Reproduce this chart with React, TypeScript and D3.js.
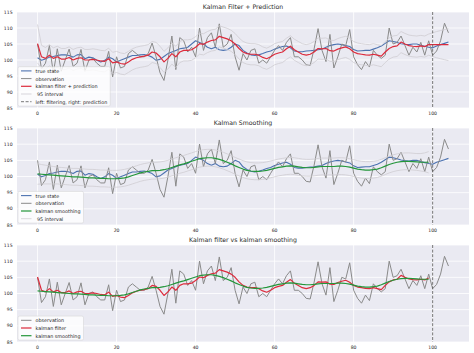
import * as d3 from "d3";
import { useEffect, useRef } from "react";

// time steps 0..104, filtering ends at 99, prediction runs 100..104
const steps = d3.range(0, 105);
const xTicks = [0, 20, 40, 60, 80, 100];
const yTicks = [85, 90, 95, 100, 105, 110, 115];
const splitAt = 100;

const observation = [
    105, 97.2, 99, 104.5, 96, 103.5, 96.5, 100, 103.4, 98,
    99, 103.3, 96.5, 100, 100.5, 99, 98, 98, 102.7, 94.7,
    101, 97.5, 98, 102, 103, 102, 101, 101, 102, 105.3,
    101, 96, 93.6, 100, 107.5, 97, 107, 106, 102.5, 104,
    101, 110, 103, 107, 108.5, 104, 111.3, 104, 105, 108,
    101, 96.8, 102, 100, 103, 103.5, 99, 100, 99, 101,
    103, 104.5, 103, 105.5, 107, 101, 101, 100, 98.5, 98.3,
    103.5, 109.8, 103, 99.5, 108, 97.5, 101, 105, 104.5, 109.5,
    101, 98.5, 97, 99.5, 97.8, 103, 101.5, 100.5, 101.5, 110,
    105, 105.5, 107.5, 104.5, 101.5, 104, 102.5, 105.5, 101.5, 106,
    101.5, 102.8, 106, 111.5, 108.5,
];

const trueState = [
    100.7, 99.9, 100.3, 100.9, 101.1, 101.4, 101.6, 101.6, 101.4, 100.9,
    101.6, 101.7, 100.4, 100.9, 100.7, 99.9, 99.4, 99.9, 100.9, 100.4,
    99.4, 99.9, 100.4, 100.9, 101.4, 101.4, 101.6, 101.7, 101.4, 100.9,
    99.9, 100.2, 101.1, 102, 102.5, 103, 103.5, 103.7, 104, 105,
    106, 105.5, 105, 104, 103.5, 104, 103.2, 103, 103.2, 104,
    105, 104.5, 103, 102.2, 101.6, 101.4, 101.6, 102, 102.5, 102.8,
    103.4, 103.8, 104.2, 104.4, 103.8, 102.8, 102.6, 102.6, 102.8, 102.9,
    103, 103.2, 103.4, 104, 104.5, 104.8, 105, 104.8, 104.5, 104.2,
    103.3, 102.8, 102.9, 103, 103, 103.4, 103.8, 104.4, 105.2, 106,
    105.8, 105.5, 105.1, 104.9, 104.8, 105, 105, 104.6, 104.3, 104,
    103.8, 104.4, 104.8, 105.2, 105.6,
];

const kalmanFilter = [
    105.1, 101, 100.5, 101.5, 100.5, 101, 100.3, 100.3, 100.8, 100,
    100.5, 100.7, 100, 100, 100.2, 100, 99.7, 99.6, 100.4, 99.1,
    99.4, 98.9, 98.7, 99.4, 100.2, 100.7, 101, 101.2, 101.5, 102.5,
    102.2, 101, 99.4, 100.5, 102, 101, 102.5, 103, 103, 103.2,
    104, 105.1, 104.9, 105.6, 106.1, 106.3, 107.4, 107, 106.6, 106,
    105, 103.6, 102.5, 102, 101.8, 101.8, 101.5, 100.8, 100.4, 101,
    101.8, 102.2, 102.5, 103.5, 104.3, 103.2, 102.5, 101.8, 101.5, 101.8,
    102.5, 103.6, 103.5, 103.6, 102.9, 102.8, 103.4, 103.8, 104.1, 103.5,
    102.5, 102, 101.8, 101.6, 101.5, 101.8, 101.5, 101.2, 102.5, 103.6,
    104.2, 104.4, 105.6, 105, 104.5, 104.3, 104.2, 104.4, 104.2, 104.8,
];

const prediction = [104.8, 104.8, 104.8, 104.8, 104.8];

// half width of the 95 interval around filter + prediction
const filterBand = [
    6, 3.6, 3.4, 3.3, 3.3, 3.3, 3.3, 3.3, 3.3, 3.3,
    3.3, 3.3, 3.3, 3.3, 3.3, 3.3, 3.3, 3.3, 3.3, 3.3,
    3.3, 3.3, 3.3, 3.3, 3.3, 3.3, 3.3, 3.3, 3.3, 3.3,
    3.3, 3.3, 3.3, 3.3, 3.3, 3.3, 3.3, 3.3, 3.3, 3.3,
    3.3, 3.3, 3.3, 3.3, 3.3, 3.3, 3.3, 3.3, 3.3, 3.3,
    3.3, 3.3, 3.3, 3.3, 3.3, 3.3, 3.3, 3.3, 3.3, 3.3,
    3.3, 3.3, 3.3, 3.3, 3.3, 3.3, 3.3, 3.3, 3.3, 3.3,
    3.3, 3.3, 3.3, 3.3, 3.3, 3.3, 3.3, 3.3, 3.3, 3.3,
    3.3, 3.3, 3.3, 3.3, 3.3, 3.3, 3.3, 3.3, 3.3, 3.3,
    3.3, 3.3, 3.3, 3.3, 3.3, 3.3, 3.3, 3.3, 3.3, 3.3,
    3.7, 4.1, 4.4, 4.7, 5.0,
];

const kalmanSmooth = [
    100.8, 100.7, 100.6, 100.5, 100.4, 100.3, 100.2, 100.1, 100, 99.9,
    99.9, 99.8, 99.7, 99.6, 99.6, 99.5, 99.4, 99.4, 99.3, 99.3,
    99.3, 99.4, 99.6, 99.9, 100.3, 100.7, 101.1, 101.4, 101.6, 101.8,
    101.8, 101.9, 102.1, 102.4, 102.8, 103.2, 103.6, 103.9, 104.3, 104.7,
    105.1, 105.5, 105.7, 105.8, 105.8, 105.6, 105.3, 104.9, 104.4, 103.9,
    103.3, 102.8, 102.3, 101.9, 101.7, 101.6, 101.6, 101.7, 101.9, 102.2,
    102.5, 102.8, 103, 103.2, 103.3, 103.2, 103, 102.8, 102.7, 102.7,
    102.8, 103, 103.1, 103.1, 103.1, 103.1, 103.2, 103.2, 103.1, 102.9,
    102.6, 102.3, 102.1, 102, 102, 102.1, 102.3, 102.7, 103.2, 103.7,
    104.1, 104.4, 104.6, 104.7, 104.7, 104.6, 104.5, 104.4, 104.4, 104.4,
];

const smoothBand = [
    3.2, 3.0, 2.9, 2.8, 2.7, 2.6, 2.6, 2.6, 2.6, 2.6,
    2.6, 2.6, 2.6, 2.6, 2.6, 2.6, 2.6, 2.6, 2.6, 2.6,
    2.6, 2.6, 2.6, 2.6, 2.6, 2.6, 2.6, 2.6, 2.6, 2.6,
    2.6, 2.6, 2.6, 2.6, 2.6, 2.6, 2.6, 2.6, 2.6, 2.6,
    2.6, 2.6, 2.6, 2.6, 2.6, 2.6, 2.6, 2.6, 2.6, 2.6,
    2.6, 2.6, 2.6, 2.6, 2.6, 2.6, 2.6, 2.6, 2.6, 2.6,
    2.6, 2.6, 2.6, 2.6, 2.6, 2.6, 2.6, 2.6, 2.6, 2.6,
    2.6, 2.6, 2.6, 2.6, 2.6, 2.6, 2.6, 2.6, 2.6, 2.6,
    2.6, 2.6, 2.6, 2.6, 2.6, 2.6, 2.6, 2.6, 2.6, 2.6,
    2.6, 2.6, 2.6, 2.6, 2.6, 2.6, 2.6, 2.7, 2.9, 3.3,
];

const COLORS = {
    truth: "#4c72b0",
    obs: "#8a8a8a",
    filter: "#dc2b3c",
    smooth: "#23963a",
    band: "#cfcdd2",
    split: "#555555",
};

const FONT = "DejaVu Sans, sans-serif";

export default function App() {
    const svgRef = useRef(null);

    useEffect(() => {
        const svg = d3.select(svgRef.current);
        svg.selectAll("*").remove();

        const x = d3.scaleLinear().domain([-5.2, 109.2]).range([17, 469]);

        const filterPlusPred = kalmanFilter.concat(prediction);
        const upperF = filterPlusPred.map((v, i) => v + filterBand[i]);
        const lowerF = filterPlusPred.map((v, i) => v - filterBand[i]);
        const upperS = kalmanSmooth.map((v, i) => v + smoothBand[i]);
        const lowerS = kalmanSmooth.map((v, i) => v - smoothBand[i]);

        const solid = (values, color, width, label) => ({ values, color, width, label });

        const panels = [
            {
                top: 12, bottom: 108, title: "Kalman Filter + Prediction",
                series: [
                    solid(trueState, COLORS.truth, 1.1, "true state"),
                    solid(observation, COLORS.obs, 1, "observation"),
                    solid(filterPlusPred, COLORS.filter, 1.2, "kalman filter + prediction"),
                    solid(upperF, COLORS.band, 0.8, " 95 interval"),
                    solid(lowerF, COLORS.band, 0.8, null),
                ],
                extra: "left: filtering, right: prediction",
            },
            {
                top: 128, bottom: 225, title: "Kalman Smoothing",
                series: [
                    solid(trueState, COLORS.truth, 1.1, "true state"),
                    solid(observation, COLORS.obs, 1, "observation"),
                    solid(kalmanSmooth, COLORS.smooth, 1.2, "kalman smoothing"),
                    solid(upperS, COLORS.band, 0.8, " 95 interval"),
                    solid(lowerS, COLORS.band, 0.8, null),
                ],
                extra: null,
            },
            {
                top: 245, bottom: 342, title: "Kalman filter vs kalman smoothing",
                series: [
                    solid(observation, COLORS.obs, 1, "observation"),
                    solid(kalmanFilter, COLORS.filter, 1.2, "kalman filter"),
                    solid(kalmanSmooth, COLORS.smooth, 1.2, "kalman smoothing"),
                ],
                extra: null,
            },
        ];

        panels.forEach((p) => {
            const y = d3.scaleLinear().domain([85, 115]).range([p.bottom, p.top]);
            const g = svg.append("g");

            g.append("rect")
                .attr("x", x.range()[0])
                .attr("y", p.top)
                .attr("width", x.range()[1] - x.range()[0])
                .attr("height", p.bottom - p.top)
                .attr("fill", "#eaeaf2");

            // grid
            g.selectAll(".gy").data(yTicks).join("line")
                .attr("x1", x.range()[0]).attr("x2", x.range()[1])
                .attr("y1", (d) => y(d)).attr("y2", (d) => y(d))
                .attr("stroke", "#fff").attr("stroke-width", 0.8);
            g.selectAll(".gx").data(xTicks).join("line")
                .attr("x1", (d) => x(d)).attr("x2", (d) => x(d))
                .attr("y1", p.top).attr("y2", p.bottom)
                .attr("stroke", "#fff").attr("stroke-width", 0.8);

            // tick labels
            g.selectAll(".ty").data(yTicks).join("text")
                .attr("x", 12.6).attr("y", (d) => y(d))
                .attr("text-anchor", "end").attr("dominant-baseline", "central")
                .style("font-family", FONT).style("font-size", "4.6px").attr("fill", "#262626")
                .text((d) => d);
            g.selectAll(".tx").data(xTicks).join("text")
                .attr("x", (d) => x(d)).attr("y", p.bottom + 5.6)
                .attr("text-anchor", "middle").attr("dominant-baseline", "central")
                .style("font-family", FONT).style("font-size", "4.6px").attr("fill", "#262626")
                .text((d) => d);

            g.append("text")
                .attr("x", (x.range()[0] + x.range()[1]) / 2)
                .attr("y", p.top - 5.6)
                .attr("text-anchor", "middle").attr("dominant-baseline", "central")
                .style("font-family", FONT).style("font-size", "6.2px").attr("fill", "#262626")
                .text(p.title);

            const line = d3.line()
                .x((d, i) => x(steps[i]))
                .y((d) => y(d));

            p.series.forEach((s) => {
                g.append("path")
                    .attr("d", line(s.values))
                    .attr("fill", "none")
                    .attr("stroke", s.color)
                    .attr("stroke-width", s.width)
                    .attr("stroke-linejoin", "round");
            });

            g.append("line")
                .attr("x1", x(splitAt)).attr("x2", x(splitAt))
                .attr("y1", p.top).attr("y2", p.bottom)
                .attr("stroke", COLORS.split).attr("stroke-width", 0.8)
                .attr("stroke-dasharray", "3,1.6");

            // legend
            const entries = p.series.filter((s) => s.label).map((s) => ({ ...s, dash: null }));
            if (p.extra) entries.push({ label: p.extra, color: COLORS.split, width: 0.8, dash: "3,1.6" });

            const step = 7.7;
            const first = p.bottom - 6.3 - (entries.length - 1) * step;
            const box = g.append("rect")
                .attr("x", 18).attr("y", first - 4.2)
                .attr("height", (entries.length - 1) * step + 8.6)
                .attr("rx", 1.5)
                .attr("fill", "#ffffff").attr("fill-opacity", 0.8)
                .attr("stroke", "#d0d0d0").attr("stroke-width", 0.5);

            let widest = 0;
            entries.forEach((e, i) => {
                const cy = first + i * step;
                g.append("line")
                    .attr("x1", 21).attr("x2", 31.5)
                    .attr("y1", cy).attr("y2", cy)
                    .attr("stroke", e.color).attr("stroke-width", e.width)
                    .attr("stroke-dasharray", e.dash);
                const t = g.append("text")
                    .attr("x", 35.5).attr("y", cy)
                    .attr("dominant-baseline", "central")
                    .style("font-family", FONT).style("font-size", "4.85px")
                    .style("white-space", "pre")
                    .attr("fill", "#262626")
                    .text(e.label);
                widest = Math.max(widest, t.node().getComputedTextLength());
            });
            box.attr("width", 35.5 - 18 + widest + 3);
        });
    }, []);

    return (
        <svg
            ref={svgRef}
            width={474}
            height={353}
            style={{ position: "absolute", left: 0, top: 0, background: "#fff" }}
        />
    );
}
